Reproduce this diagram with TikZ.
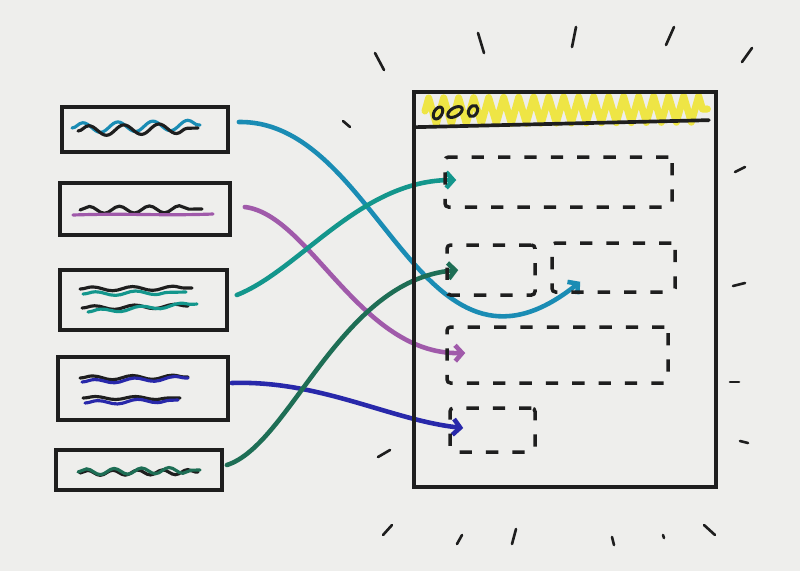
\documentclass[tikz,border=0pt]{standalone}
\usepackage{amsmath}
\usepackage[usenames,dvipsnames]{xcolor}
\usepackage{tikz}
\usetikzlibrary{arrows.meta,decorations.pathmorphing,calc}
\pgfdeclarelayer{background}
\pgfdeclarelayer{edgelayer}
\pgfdeclarelayer{nodelayer}
\pgfsetlayers{background,edgelayer,nodelayer,main}
\definecolor{paper}{RGB}{238,238,236}
\definecolor{ink}{RGB}{30,30,30}
\definecolor{mblue}{RGB}{26,140,180}
\definecolor{mteal}{RGB}{19,150,140}
\definecolor{mpurple}{RGB}{160,90,170}
\definecolor{mnavy}{RGB}{40,40,170}
\definecolor{mgreen}{RGB}{30,110,85}
\definecolor{myellow}{RGB}{238,228,40}
\tikzstyle{card}=[rectangle, draw=ink, line width=2.1pt, inner sep=0pt]
\tikzstyle{window}=[rectangle, draw=ink, line width=2.1pt, inner sep=0pt, minimum width=6.04cm, minimum height=7.9cm]
\tikzstyle{slot}=[rectangle, draw=ink, line width=2pt, dash pattern=on 7pt off 8pt, rounded corners=2pt, inner sep=0pt]
\tikzstyle{link}=[-{Straight Barb[length=4pt,width=9pt]}, line width=2.6pt, line cap=round]
\tikzstyle{squiggle}=[line width=1.8pt, line cap=round, decorate, decoration={snake, segment length=0.7cm, amplitude=0.1cm}]
\tikzstyle{tick}=[draw=ink, line width=1.5pt, line cap=round]

\begin{document}
\begin{tikzpicture}
            \useasboundingbox (0, 0) rectangle (16, -11.42);
            \begin{pgfonlayer}{background}
                \fill [paper] (0, 0) rectangle (16, -11.42);
                \begin{scope}[shift={(8.5, -2.22)}, xslant=0.7]
                    \draw [myellow, line width=4pt, opacity=0.85, line join=round, line cap=round, decorate, decoration={zigzag, segment length=0.3cm, amplitude=0.26cm}] (0, 0) -- (5.62, 0.04);
                \end{scope}
            \end{pgfonlayer}
            \begin{pgfonlayer}{nodelayer}
                \node [style=card, minimum width=3.32cm, minimum height=0.9cm] (card1) at (2.9, -2.59) {};
                \node [style=card, minimum width=3.4cm, minimum height=1.04cm] (card2) at (2.9, -4.18) {};
                \node [style=card, minimum width=3.34cm, minimum height=1.2cm] (card3) at (2.87, -6.0) {};
                \node [style=card, minimum width=3.4cm, minimum height=1.26cm] (card4) at (2.86, -7.77) {};
                \node [style=card, minimum width=3.32cm, minimum height=0.8cm] (card5) at (2.78, -9.4) {};
                \node [style=window] (window) at (11.3, -5.79) {};
                \node [style=slot, minimum width=4.54cm, minimum height=1.0cm] (slot1) at (11.17, -3.64) {};
                \node [style=slot, minimum width=1.76cm, minimum height=1.0cm] (slot2a) at (9.82, -5.4) {};
                \node [style=slot, minimum width=2.46cm, minimum height=0.98cm] (slot2b) at (12.27, -5.35) {};
                \node [style=slot, minimum width=4.42cm, minimum height=1.12cm] (slot3) at (11.15, -7.1) {};
                \node [style=slot, minimum width=1.7cm, minimum height=0.88cm] (slot4) at (9.85, -8.6) {};
                \coordinate (tipA) at ([xshift=0.26cm, yshift=0.04cm]slot1.west);
                \coordinate (tipB) at ([shift={(0.6, 0.24)}]slot2b.south west);
                \coordinate (tipC) at ([xshift=0.4cm, yshift=0.04cm]slot3.west);
                \coordinate (tipD) at ([xshift=0.3cm, yshift=0.04cm]slot4.west);
                \coordinate (tipE) at ([xshift=0.26cm]slot2a.west);
            \end{pgfonlayer}
            % browser header
            \draw [ink, line width=2.1pt, line cap=round] ($(window.north west)+(0.06, -0.74)$) -- ($(window.north east)+(-0.18, -0.6)$);
            \draw [ink, line width=1.7pt, rotate around={60:(8.76, -2.26)}] (8.76, -2.26) ellipse (0.13 and 0.08);
            \draw [ink, line width=1.7pt, rotate around={30:(9.1, -2.24)}] (9.1, -2.24) ellipse (0.16 and 0.085);
            \draw [ink, line width=1.7pt, rotate around={60:(9.46, -2.22)}] (9.46, -2.22) ellipse (0.12 and 0.085);
            % text squiggles
            \draw [style=squiggle, mblue] (1.44, -2.56) -- (4.0, -2.5);
            \draw [style=squiggle, ink] (1.56, -2.62) -- (3.96, -2.56);
            \draw [style=squiggle, ink, decoration={snake, segment length=0.6cm, amplitude=0.07cm}] (1.6, -4.2) -- (4.04, -4.18);
            \draw [line width=1.8pt, line cap=round, mpurple] (1.46, -4.3) .. controls (2.6, -4.26) and (3.2, -4.32) .. (4.26, -4.28);
            \draw [style=squiggle, ink, decoration={snake, segment length=0.8cm, amplitude=0.04cm}] (1.6, -5.78) -- (3.84, -5.76);
            \draw [style=squiggle, mteal, decoration={snake, segment length=0.8cm, amplitude=0.04cm}] (1.66, -5.88) -- (3.72, -5.84);
            \draw [style=squiggle, ink, decoration={snake, segment length=0.8cm, amplitude=0.04cm}] (1.64, -6.16) -- (3.76, -6.12);
            \draw [style=squiggle, mteal, decoration={snake, segment length=0.8cm, amplitude=0.04cm}] (1.76, -6.24) -- (3.94, -6.08);
            \draw [style=squiggle, ink, decoration={snake, segment length=0.8cm, amplitude=0.04cm}] (1.6, -7.56) -- (3.76, -7.54);
            \draw [style=squiggle, mnavy, decoration={snake, segment length=0.8cm, amplitude=0.04cm}] (1.64, -7.64) -- (3.76, -7.56);
            \draw [style=squiggle, ink, decoration={snake, segment length=0.8cm, amplitude=0.03cm}] (1.66, -7.96) -- (3.6, -7.96);
            \draw [style=squiggle, mnavy, decoration={snake, segment length=0.8cm, amplitude=0.04cm}] (1.7, -8.06) -- (3.56, -8.0);
            \draw [style=squiggle, ink, decoration={snake, segment length=0.5cm, amplitude=0.05cm}] (1.6, -9.46) -- (3.96, -9.44);
            \draw [style=squiggle, mgreen, decoration={snake, segment length=0.55cm, amplitude=0.06cm}] (1.56, -9.44) -- (4.0, -9.4);
            % rays round the window
            \foreach \a/\b in {{6.86,-2.42}/{7.0,-2.54}, {7.5,-1.06}/{7.68,-1.4}, {9.56,-0.66}/{9.68,-1.06},
                    {11.52,-0.54}/{11.44,-0.94}, {13.48,-0.54}/{13.32,-0.9}, {15.04,-0.96}/{14.84,-1.24},
                    {14.7,-3.44}/{14.9,-3.34}, {14.66,-5.72}/{14.9,-5.66}, {14.6,-7.64}/{14.78,-7.64},
                    {14.8,-8.82}/{14.96,-8.86}, {7.56,-9.14}/{7.8,-9.0}, {7.66,-10.7}/{7.84,-10.5},
                    {9.14,-10.88}/{9.24,-10.7}, {10.24,-10.88}/{10.32,-10.58}, {12.24,-10.74}/{12.28,-10.9},
                    {13.26,-10.7}/{13.28,-10.76}, {14.08,-10.5}/{14.3,-10.7}}
                \draw [style=tick] (\a) -- (\b);
            \begin{pgfonlayer}{edgelayer}
                \draw [style=link, mblue] ([shift={(0.18, 0.15)}]card1.east) .. controls (7.6, -2.4) and (8.4, -8.2) .. (tipB);
                \draw [style=link, mpurple] ([shift={(0.26, 0.04)}]card2.east) .. controls (6.2, -4.3) and (7.2, -7.1) .. (tipC);
                \draw [style=link, mteal] ([shift={(0.16, 0.1)}]card3.east) .. controls (6.0, -5.4) and (7.2, -3.6) .. (tipA);
                \draw [style=link, mnavy] ([shift={(0.04, 0.11)}]card4.east) .. controls (6.4, -7.6) and (7.8, -8.4) .. (tipD);
                \draw [style=link, mgreen] ([shift={(0.06, 0.1)}]card5.east) .. controls (5.8, -8.9) and (6.8, -5.6) .. (tipE);
            \end{pgfonlayer}
        \end{tikzpicture}
\end{document}
